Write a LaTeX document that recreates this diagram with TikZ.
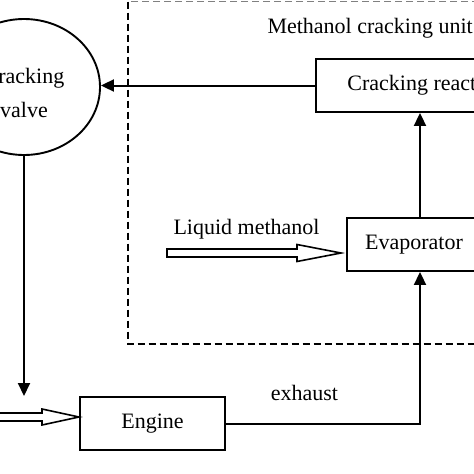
\documentclass[tikz,border=0pt]{standalone}
\usepackage{fontspec}
\setmainfont{Liberation Serif}
\usetikzlibrary{arrows.meta,shapes.geometric,calc}
\begin{document}
\begin{tikzpicture}[x=1pt,y=-1pt,
  every node/.style={font=\fontsize{22}{34}\selectfont},
  box/.style={draw,line width=1.9pt,rectangle,inner sep=0pt,minimum height=53pt},
  conn/.style={line width=2pt,-{Triangle[length=13pt,width=12pt]}},
  hollow/.style={draw,line width=1.6pt,fill=white,line join=miter},
  unitbox/.style={draw,line width=1.7pt,dash pattern=on 7pt off 4pt}]
\useasboundingbox (0,0) rectangle (474,474);
\clip (0,0) rectangle (474,474);
% dashed unit frame
\draw[unitbox,gray] (600,1.5) -- (128,1.5);
\draw[unitbox] (128,1.5) -- (128,344) -- (600,344);
\node[anchor=base west] (unitlabel) at (264,33) {Methanol cracking unit};
% nodes
\node[draw,ellipse,line width=1.9pt,minimum width=152pt,minimum height=136pt] (valve) at (24,87) {};
\node[align=center,inner sep=0pt] (valvetext) at (24,93) {Cracking\\valve};
\node[box,minimum width=210pt] (reactor) at (421,85.5) {Cracking reactor};
\node[box,minimum width=134pt] (evap) at (414,244.5) {Evaporator};
\node[box,minimum width=145pt] (engine) at (152.5,423.5) {Engine};
% connectors
\coordinate (vx) at (420,0);
\draw[conn] (reactor.west) -- (reactor.west -| valve.east);
\draw[conn] (evap.north -| vx) -- (reactor.south -| vx);
\coordinate (vend) at (24,396);
\draw[conn] (valve.south) -- (vend);
\draw[conn] (engine.east) -| (evap.south -| vx);
\node[anchor=base] (exhaust) at (304.5,400) {exhaust};
% hollow arrows
\coordinate (lmtip) at (341,253);
\draw[hollow] ($(lmtip)+(-174,-4)$) -- ($(lmtip)+(-44,-4)$) -- ($(lmtip)+(-44,-8.5)$) -- (lmtip)
  -- ($(lmtip)+(-44,8.5)$) -- ($(lmtip)+(-44,4)$) -- ($(lmtip)+(-174,4)$) -- cycle;
\node[anchor=base west] (liquid) at (170,234) {Liquid methanol};
\coordinate (entip) at (79,417);
\draw[hollow] ($(entip)+(-100,-4)$) -- ($(entip)+(-37,-4)$) -- ($(entip)+(-37,-8)$) -- (entip)
  -- ($(entip)+(-37,8)$) -- ($(entip)+(-37,4)$) -- ($(entip)+(-100,4)$) -- cycle;
\end{tikzpicture}
\end{document}
